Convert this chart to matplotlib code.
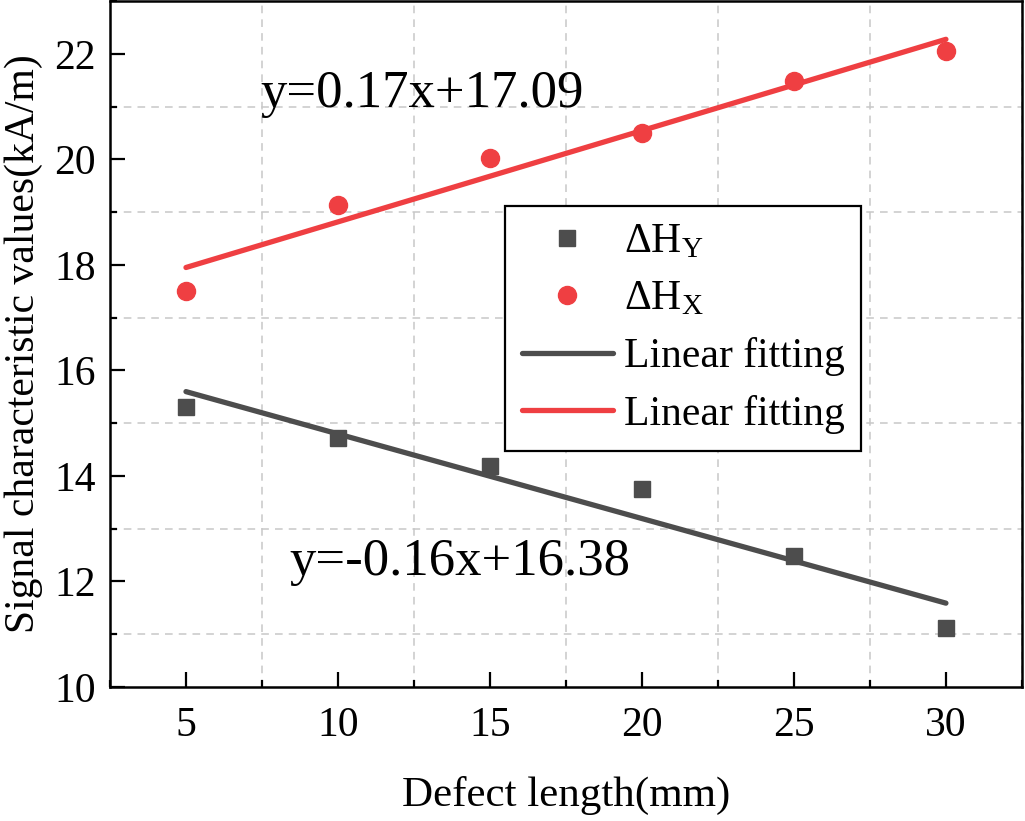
import numpy as np
import matplotlib
matplotlib.use("Agg")
import matplotlib.pyplot as plt
from matplotlib.ticker import MultipleLocator

plt.rcParams['font.family'] = ['Liberation Serif', 'DejaVu Serif']
plt.rcParams['mathtext.fontset'] = 'custom'
plt.rcParams['mathtext.rm'] = 'Liberation Serif'
plt.rcParams['mathtext.it'] = 'Liberation Serif:italic'

x = [5, 10, 15, 20, 25, 30]
dHy = [15.30, 14.72, 14.19, 13.75, 12.48, 11.12]
dHx = [17.50, 19.13, 20.02, 20.49, 21.48, 22.05]
eq_x = "y=0.17x+17.09"
eq_y = "y=-0.16x+16.38"

c_gray = '#4d4d4d'
c_red = '#ef3f42'

fig = plt.figure(figsize=(10.25, 8.21), dpi=100)
ax = fig.add_axes([0.1073, 0.1632, 0.8897, 0.8356])

xa = np.array(x, dtype=float)
py = np.polyfit(xa, dHy, 1)
px = np.polyfit(xa, dHx, 1)

ax.plot(x, dHy, 's', color=c_gray, ms=11, label=r'ΔH$_{\mathrm{Y}}$', zorder=4)
ax.plot(x, dHx, 'o', color=c_red, ms=13, label=r'ΔH$_{\mathrm{X}}$', zorder=4)
ax.plot(xa, np.polyval(py, xa), '-', color=c_gray, lw=3.8, label='Linear fitting', solid_capstyle='round', zorder=3)
ax.plot(xa, np.polyval(px, xa), '-', color=c_red, lw=3.8, label='Linear fitting', solid_capstyle='round', zorder=3)

ax.set_xlim(2.5, 32.5)
ax.set_ylim(10, 23)
ax.xaxis.set_major_locator(MultipleLocator(5))
ax.xaxis.set_minor_locator(MultipleLocator(2.5))
ax.yaxis.set_major_locator(MultipleLocator(2))
ax.yaxis.set_minor_locator(MultipleLocator(1))

ax.grid(True, which='minor', linestyle=(0, (5, 4)), color='#c8c8c8', lw=1.1)
ax.grid(False, which='major')
ax.tick_params(which='major', direction='in', length=11, width=1.6, labelsize=30, pad=10)
ax.tick_params(which='minor', direction='in', length=5, width=1.6)
ax.tick_params(axis='x', pad=14)
for s in ax.spines.values():
    s.set_linewidth(1.8)

ax.set_xlabel('Defect length(mm)', fontsize=31, labelpad=22)
ax.set_ylabel('Signal characteristic values(kA/m)', fontsize=30, labelpad=8)

ax.text(7.45, 21.0, eq_x, fontsize=38, ha='left', va='baseline')
ax.text(8.39, 12.13, eq_y, fontsize=38, ha='left', va='baseline')

leg = ax.legend(loc='upper left', bbox_to_anchor=(0.4331, 0.7012), fontsize=30,
                frameon=True, fancybox=False, edgecolor='black', framealpha=1,
                handlelength=2.2, handletextpad=0.25, labelspacing=0.45,
                borderpad=0.4, borderaxespad=0)
leg.get_frame().set_linewidth(1.6)

fig.savefig('out.png', dpi=100)
